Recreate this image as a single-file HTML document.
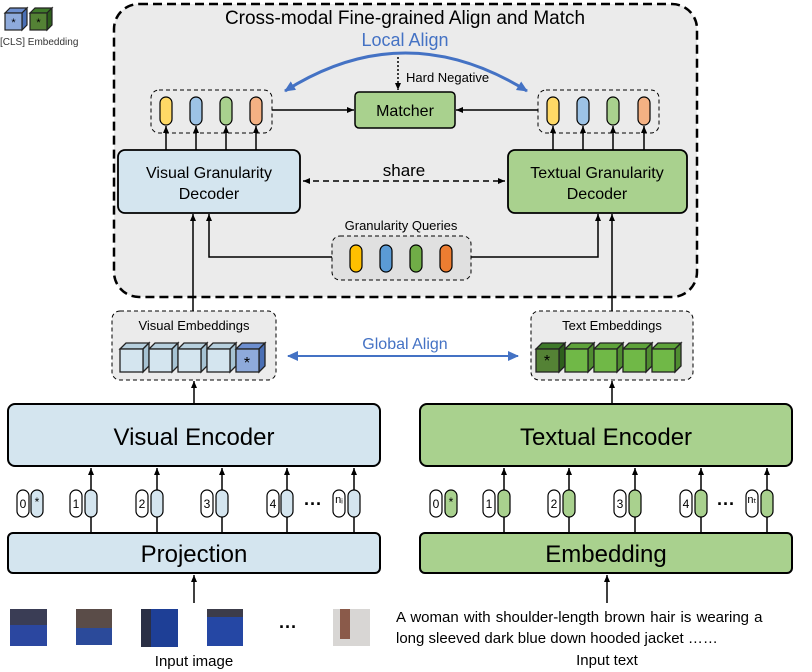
<!DOCTYPE html>
<html><head><meta charset="utf-8"><style>
body{margin:0;background:#fff}
svg{display:block;font-family:"Liberation Sans",sans-serif}
</style></head><body>
<svg width="812" height="672" viewBox="0 0 812 672" xmlns="http://www.w3.org/2000/svg">
<defs>
<marker id="a" markerWidth="8" markerHeight="8" refX="7" refY="4" orient="auto" markerUnits="userSpaceOnUse"><path d="M0,1 L7,4 L0,7 z" fill="#000"/></marker>
<marker id="b" markerWidth="12" markerHeight="12" refX="10" refY="6" orient="auto-start-reverse" markerUnits="userSpaceOnUse"><path d="M0,1 L11,6 L0,11 z" fill="#4472c4"/></marker>
<marker id="k" markerWidth="8" markerHeight="8" refX="7" refY="4" orient="auto-start-reverse" markerUnits="userSpaceOnUse"><path d="M0,1 L7,4 L0,7 z" fill="#000"/></marker>
</defs>

<!-- legend -->
<g stroke="#222" stroke-width="1.2">
<path d="M5,13 l5,-5 h17 l-5,5z" fill="#6d8fd0"/><path d="M22,13 l5,-5 v17 l-5,5z" fill="#4a6fb5"/><rect x="5" y="13" width="17" height="17" fill="#8eaadb"/>
<path d="M30,13 l5,-5 h17 l-5,5z" fill="#3f7a2a"/><path d="M47,13 l5,-5 v17 l-5,5z" fill="#2e5f1d"/><rect x="30" y="13" width="17" height="17" fill="#548235"/>
</g>
<text x="13.5" y="26" font-size="11" text-anchor="middle">*</text><text x="38.5" y="26" font-size="11" text-anchor="middle">*</text>
<text x="0" y="45" font-size="10" fill="#333">[CLS] Embedding</text>

<!-- big box -->
<rect x="114" y="4" width="583" height="293" rx="25" fill="#ebebeb" stroke="#000" stroke-width="2.5" stroke-dasharray="9,5"/>
<text x="405" y="24" font-size="19" text-anchor="middle">Cross-modal Fine-grained Align and Match</text>
<text x="405" y="46" font-size="18" fill="#4472c4" text-anchor="middle">Local Align</text>
<path d="M285,91 Q405,15 527,91" fill="none" stroke="#4472c4" stroke-width="3" marker-start="url(#b)" marker-end="url(#b)"/>
<line x1="398" y1="57" x2="398" y2="90" stroke="#000" stroke-width="1.5" stroke-dasharray="2,2" marker-end="url(#a)"/>
<text x="406" y="82" font-size="13">Hard Negative</text>

<rect x="355" y="92" width="100" height="36" rx="4" fill="#a9d18e" stroke="#000" stroke-width="1.5"/>
<text x="405" y="116" font-size="16" text-anchor="middle">Matcher</text>

<!-- token groups -->
<rect x="151" y="90" width="121" height="43" rx="8" fill="none" stroke="#000" stroke-dasharray="4,3"/>
<rect x="538" y="90" width="121" height="43" rx="8" fill="none" stroke="#000" stroke-dasharray="4,3"/>
<g stroke="#000" stroke-width="1.2">
<rect x="160" y="97" width="12" height="28" rx="6" fill="#ffd966"/>
<rect x="190" y="97" width="12" height="28" rx="6" fill="#9dc3e6"/>
<rect x="220" y="97" width="12" height="28" rx="6" fill="#a9d18e"/>
<rect x="250" y="97" width="12" height="28" rx="6" fill="#f4b183"/>
<rect x="547" y="97" width="12" height="28" rx="6" fill="#ffd966"/>
<rect x="577" y="97" width="12" height="28" rx="6" fill="#9dc3e6"/>
<rect x="607" y="97" width="12" height="28" rx="6" fill="#a9d18e"/>
<rect x="638" y="97" width="12" height="28" rx="6" fill="#f4b183"/>
</g>
<g stroke="#000" stroke-width="1.5" fill="none">
<line x1="272" y1="110" x2="354" y2="110" marker-end="url(#a)"/>
<line x1="538" y1="110" x2="456" y2="110" marker-end="url(#a)"/>
<line x1="166" y1="150" x2="166" y2="126" marker-end="url(#a)"/>
<line x1="196" y1="150" x2="196" y2="126" marker-end="url(#a)"/>
<line x1="226" y1="150" x2="226" y2="126" marker-end="url(#a)"/>
<line x1="256" y1="150" x2="256" y2="126" marker-end="url(#a)"/>
<line x1="553" y1="150" x2="553" y2="126" marker-end="url(#a)"/>
<line x1="583" y1="150" x2="583" y2="126" marker-end="url(#a)"/>
<line x1="613" y1="150" x2="613" y2="126" marker-end="url(#a)"/>
<line x1="644" y1="150" x2="644" y2="126" marker-end="url(#a)"/>
</g>

<!-- decoders -->
<rect x="118" y="150" width="182" height="63" rx="7" fill="#d4e5ef" stroke="#000" stroke-width="1.8"/>
<text x="209" y="178" font-size="16" text-anchor="middle">Visual Granularity</text>
<text x="209" y="199" font-size="16" text-anchor="middle">Decoder</text>
<rect x="508" y="150" width="179" height="63" rx="7" fill="#a9d18e" stroke="#000" stroke-width="1.8"/>
<text x="597" y="178" font-size="16" text-anchor="middle">Textual Granularity</text>
<text x="597" y="199" font-size="16" text-anchor="middle">Decoder</text>
<line x1="303" y1="181" x2="505" y2="181" stroke="#000" stroke-width="1.5" stroke-dasharray="6,4" marker-start="url(#k)" marker-end="url(#k)"/>
<text x="404" y="176" font-size="17" text-anchor="middle">share</text>

<!-- granularity queries -->
<text x="401" y="230" font-size="13" text-anchor="middle">Granularity Queries</text>
<rect x="332" y="236" width="139" height="44" rx="8" fill="#e0e0e0" stroke="#000" stroke-dasharray="4,3"/>
<g stroke="#000" stroke-width="1.2">
<rect x="350" y="245" width="12" height="27" rx="6" fill="#ffc000"/>
<rect x="380" y="245" width="12" height="27" rx="6" fill="#5b9bd5"/>
<rect x="410" y="245" width="12" height="27" rx="6" fill="#70ad47"/>
<rect x="440" y="245" width="12" height="27" rx="6" fill="#ed7d31"/>
</g>
<g stroke="#000" stroke-width="1.5" fill="none">
<polyline points="332,257 209,257 209,214" marker-end="url(#a)"/>
<polyline points="471,257 598,257 598,214" marker-end="url(#a)"/>
<line x1="193" y1="311" x2="193" y2="214" marker-end="url(#a)"/>
<line x1="612" y1="311" x2="612" y2="214" marker-end="url(#a)"/>
</g>

<!-- embeddings -->
<rect x="112" y="311" width="164" height="69" rx="8" fill="#ebebeb" stroke="#000" stroke-dasharray="4,3"/>
<text x="194" y="330" font-size="13" text-anchor="middle">Visual Embeddings</text>
<rect x="531" y="311" width="162" height="69" rx="8" fill="#ebebeb" stroke="#000" stroke-dasharray="4,3"/>
<text x="612" y="330" font-size="13" text-anchor="middle">Text Embeddings</text>
<g stroke="#222" stroke-width="1.3">
<path d="M120,349 l6,-6 h23 l-6,6z M149,349 l6,-6 h23 l-6,6z M178,349 l6,-6 h23 l-6,6z M207,349 l6,-6 h23 l-6,6z" fill="#b7d0de"/>
<path d="M143,349 l6,-6 v23 l-6,6z M172,349 l6,-6 v23 l-6,6z M201,349 l6,-6 v23 l-6,6z M230,349 l6,-6 v23 l-6,6z" fill="#a6c3d3"/>
<rect x="120" y="349" width="23" height="23" fill="#d4e5ef"/><rect x="149" y="349" width="23" height="23" fill="#d4e5ef"/><rect x="178" y="349" width="23" height="23" fill="#d4e5ef"/><rect x="207" y="349" width="23" height="23" fill="#d4e5ef"/>
<path d="M236,349 l6,-6 h23 l-6,6z" fill="#6d8fd0"/><path d="M259,349 l6,-6 v23 l-6,6z" fill="#4a6fb5"/><rect x="236" y="349" width="23" height="23" fill="#8eaadb"/>

<path d="M536,349 l6,-6 h23 l-6,6z" fill="#3f7a2a"/><path d="M559,349 l6,-6 v23 l-6,6z" fill="#2e5f1d"/><rect x="536" y="349" width="23" height="23" fill="#548235"/>
<path d="M565,349 l6,-6 h23 l-6,6z M594,349 l6,-6 h23 l-6,6z M623,349 l6,-6 h23 l-6,6z M652,349 l6,-6 h23 l-6,6z" fill="#5ea33a"/>
<path d="M588,349 l6,-6 v23 l-6,6z M617,349 l6,-6 v23 l-6,6z M646,349 l6,-6 v23 l-6,6z M675,349 l6,-6 v23 l-6,6z" fill="#4f8c30"/>
<rect x="565" y="349" width="23" height="23" fill="#70b847"/><rect x="594" y="349" width="23" height="23" fill="#70b847"/><rect x="623" y="349" width="23" height="23" fill="#70b847"/><rect x="652" y="349" width="23" height="23" fill="#70b847"/>
</g>
<text x="247" y="368" font-size="16" text-anchor="middle">*</text>
<text x="547" y="366" font-size="16" text-anchor="middle">*</text>

<line x1="288" y1="356" x2="518" y2="356" stroke="#4472c4" stroke-width="2" marker-start="url(#b)" marker-end="url(#b)"/>
<text x="405" y="349" font-size="16" fill="#4472c4" text-anchor="middle">Global Align</text>

<!-- encoders -->
<g stroke="#000" stroke-width="1.5">
<line x1="194" y1="404" x2="194" y2="381" marker-end="url(#a)"/>
<line x1="612" y1="404" x2="612" y2="381" marker-end="url(#a)"/>
</g>
<rect x="8" y="404" width="372" height="62" rx="7" fill="#d4e5ef" stroke="#000" stroke-width="2"/>
<text x="194" y="445" font-size="24" text-anchor="middle">Visual Encoder</text>
<rect x="420" y="404" width="372" height="62" rx="7" fill="#a9d18e" stroke="#000" stroke-width="2"/>
<text x="606" y="445" font-size="24" text-anchor="middle">Textual Encoder</text>

<rect x="8" y="533" width="372" height="40" rx="5" fill="#d4e5ef" stroke="#000" stroke-width="2"/>
<text x="194" y="562" font-size="24" text-anchor="middle">Projection</text>
<rect x="420" y="533" width="372" height="40" rx="5" fill="#a9d18e" stroke="#000" stroke-width="2"/>
<text x="606" y="562" font-size="24" text-anchor="middle">Embedding</text>

<!-- token pairs -->
<g stroke="#000" stroke-width="1.5">
<line x1="91" y1="533" x2="91" y2="468" marker-end="url(#a)"/>
<line x1="157" y1="533" x2="157" y2="468" marker-end="url(#a)"/>
<line x1="222" y1="533" x2="222" y2="468" marker-end="url(#a)"/>
<line x1="287" y1="533" x2="287" y2="468" marker-end="url(#a)"/>
<line x1="354" y1="533" x2="354" y2="468" marker-end="url(#a)"/>
<line x1="504" y1="533" x2="504" y2="468" marker-end="url(#a)"/>
<line x1="569" y1="533" x2="569" y2="468" marker-end="url(#a)"/>
<line x1="635" y1="533" x2="635" y2="468" marker-end="url(#a)"/>
<line x1="701" y1="533" x2="701" y2="468" marker-end="url(#a)"/>
<line x1="767" y1="533" x2="767" y2="468" marker-end="url(#a)"/>
</g>
<g stroke="#000" stroke-width="1.2" font-size="12">
<rect x="17" y="490" width="12" height="27" rx="6" fill="#fff"/><rect x="31" y="490" width="12" height="27" rx="6" fill="#d4e5ef"/>
<rect x="70" y="490" width="12" height="27" rx="6" fill="#fff"/><rect x="85" y="490" width="12" height="27" rx="6" fill="#d4e5ef"/>
<rect x="136" y="490" width="12" height="27" rx="6" fill="#fff"/><rect x="151" y="490" width="12" height="27" rx="6" fill="#d4e5ef"/>
<rect x="201" y="490" width="12" height="27" rx="6" fill="#fff"/><rect x="216" y="490" width="12" height="27" rx="6" fill="#d4e5ef"/>
<rect x="267" y="490" width="12" height="27" rx="6" fill="#fff"/><rect x="281" y="490" width="12" height="27" rx="6" fill="#d4e5ef"/>
<rect x="333" y="490" width="12" height="27" rx="6" fill="#fff"/><rect x="348" y="490" width="12" height="27" rx="6" fill="#d4e5ef"/>

<rect x="430" y="490" width="12" height="27" rx="6" fill="#fff"/><rect x="445" y="490" width="12" height="27" rx="6" fill="#a9d18e"/>
<rect x="483" y="490" width="12" height="27" rx="6" fill="#fff"/><rect x="498" y="490" width="12" height="27" rx="6" fill="#a9d18e"/>
<rect x="548" y="490" width="12" height="27" rx="6" fill="#fff"/><rect x="563" y="490" width="12" height="27" rx="6" fill="#a9d18e"/>
<rect x="614" y="490" width="12" height="27" rx="6" fill="#fff"/><rect x="629" y="490" width="12" height="27" rx="6" fill="#a9d18e"/>
<rect x="680" y="490" width="12" height="27" rx="6" fill="#fff"/><rect x="695" y="490" width="12" height="27" rx="6" fill="#a9d18e"/>
<rect x="746" y="490" width="12" height="27" rx="6" fill="#fff"/><rect x="761" y="490" width="12" height="27" rx="6" fill="#a9d18e"/>
</g>
<g font-size="12" text-anchor="middle">
<text x="23" y="508">0</text><text x="37" y="506">*</text><text x="76" y="508">1</text><text x="142" y="508">2</text><text x="207" y="508">3</text><text x="273" y="508">4</text><text x="339" y="503" font-size="11">nᵢ</text>
<text x="436" y="508">0</text><text x="451" y="506">*</text><text x="489" y="508">1</text><text x="554" y="508">2</text><text x="620" y="508">3</text><text x="686" y="508">4</text><text x="752" y="503" font-size="11">nₜ</text>
</g>
<text x="313" y="510" font-size="18" font-weight="bold" text-anchor="middle">···</text>
<text x="726" y="510" font-size="18" font-weight="bold" text-anchor="middle">···</text>

<!-- inputs -->
<g stroke="#000" stroke-width="1.5">
<line x1="194" y1="603" x2="194" y2="575" marker-end="url(#a)"/>
<line x1="607" y1="603" x2="607" y2="575" marker-end="url(#a)"/>
</g>
<rect x="10" y="609" width="37" height="37" fill="#3a3d55"/><rect x="10" y="625" width="37" height="21" fill="#2b47a0"/>
<rect x="76" y="609" width="36" height="36" fill="#5a4c48"/><rect x="76" y="628" width="36" height="17" fill="#2b4a9a"/>
<rect x="141" y="609" width="37" height="38" fill="#1e3f96"/><rect x="141" y="609" width="10" height="38" fill="#2a2f45"/>
<rect x="207" y="609" width="36" height="37" fill="#2547a4"/><rect x="207" y="609" width="36" height="8" fill="#3c3c4a"/>
<rect x="333" y="609" width="37" height="37" fill="#d8d6d4"/><rect x="340" y="609" width="10" height="30" fill="#8a5a4a"/>
<text x="288" y="633" font-size="18" font-weight="bold" text-anchor="middle">···</text>
<text x="194" y="666" font-size="15" text-anchor="middle">Input image</text>
<text x="396" y="622" font-size="15" word-spacing="1">A woman with shoulder-length brown hair is wearing  a</text>
<text x="396" y="643" font-size="15">long sleeved dark blue down hooded jacket ……</text>
<text x="607" y="665" font-size="15" text-anchor="middle">Input text</text>
</svg>
</body></html>
